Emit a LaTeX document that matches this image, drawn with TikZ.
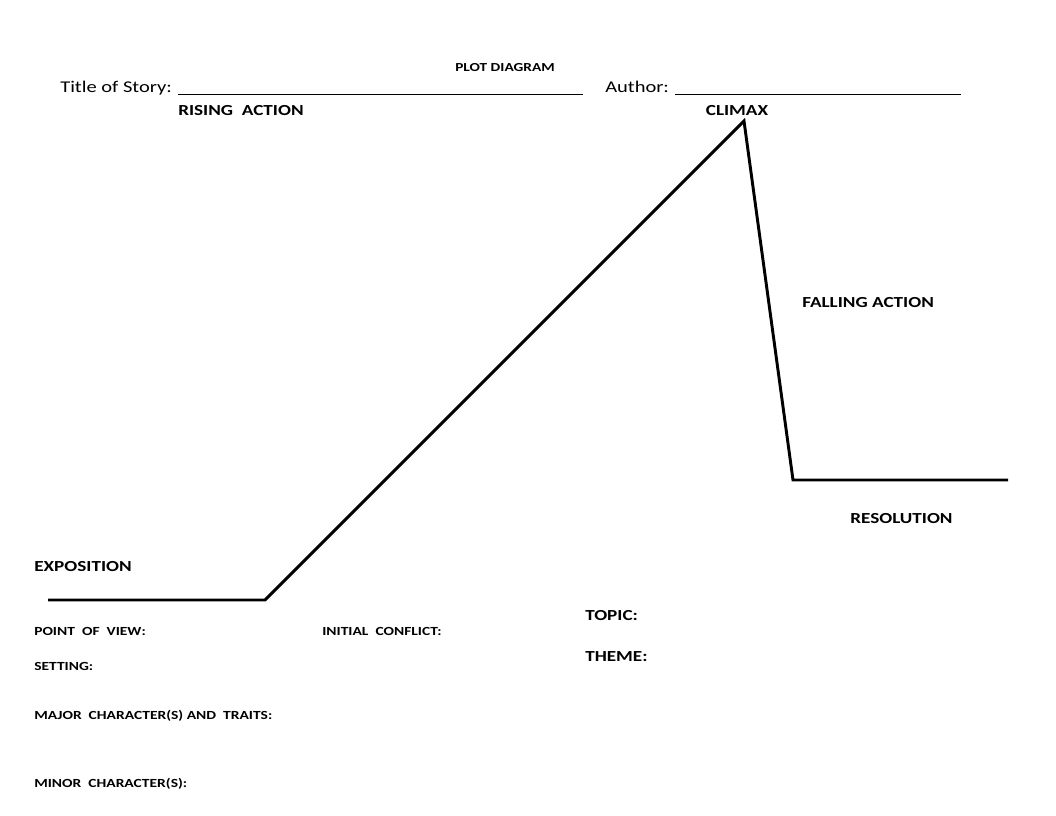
\documentclass[tikz,border=0pt]{standalone}
\usepackage{fontspec}
\setmainfont[FakeStretch=1.25]{Carlito}
\usepackage{xcolor}
\usetikzlibrary{positioning, calc}
\definecolor{inkblack}{HTML}{000000}

\begin{document}
\begin{tikzpicture}[
    x=0.75pt, y=-0.75pt,
    heading/.style={font=\bfseries\fontsize{11.5}{13}\selectfont, inner sep=0pt, anchor=west},
    field/.style={font=\bfseries\fontsize{9.3}{11}\selectfont, inner sep=0pt, anchor=west},
    blank/.style={font=\fontsize{12.3}{14}\selectfont, inner sep=0pt, anchor=west},
    plotline/.style={line width=2.2pt, inkblack, line join=miter}
]

% Page
\useasboundingbox (0,0) rectangle (1056,816);

% Header
\node[font=\bfseries\fontsize{9.2}{11}\selectfont, inner sep=0pt] (title) at (505,68) {PLOT DIAGRAM};
\node[blank] (story) at (60,88) {Title of Story: \rule[-1.5pt]{304pt}{0.5pt}};
\node[blank] (author) at (605,88) {Author: \rule[-1.5pt]{214pt}{0.5pt}};

% Plot line
\coordinate (start) at (48,600);
\coordinate (conflict) at (265,600);
\coordinate (climax) at (744,121);
\coordinate (fallend) at (793,480);
\coordinate (finish) at (1008,480);
\draw[plotline] (start) -- (conflict) -- (climax) -- (fallend) -- (finish);

% Stage labels
\node[heading] (rising) at (178,111) {RISING\ \ ACTION};
\node[heading, anchor=center] (climaxlabel) at (737,111) {CLIMAX};
\node[heading] (falling) at (802,303) {FALLING ACTION};
\node[heading] (resolution) at (850,519) {RESOLUTION};
\node[heading] (exposition) at (34,567) {EXPOSITION};

% Fields
\node[field] (pov) at (34,631) {POINT\ \ OF\ \ VIEW:};
\node[field] (initial) at (322,631) {INITIAL\ \ CONFLICT:};
\node[field] (setting) at (34,666) {SETTING:};
\node[field] (major) at (34,716) {MAJOR\ \ CHARACTER(S) AND\ \ TRAITS:};
\node[field] (minor) at (34,784) {MINOR\ \ CHARACTER(S):};
\node[heading] (topic) at (585,616) {TOPIC:};
\node[heading] (theme) at (585,657) {THEME:};

\end{tikzpicture}
\end{document}
